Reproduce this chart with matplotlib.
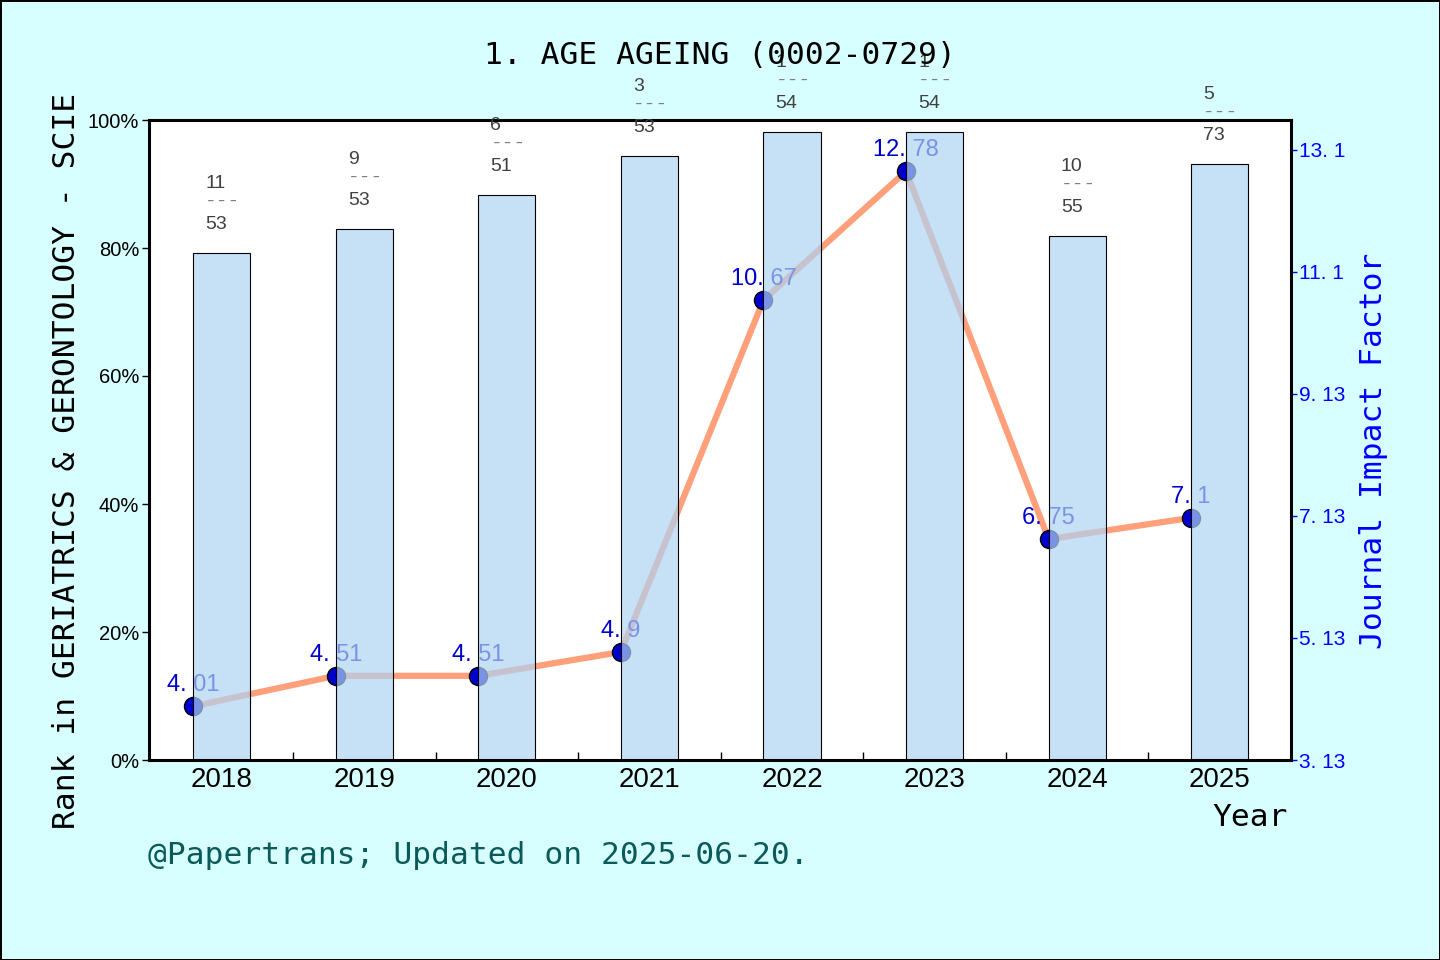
import numpy as np
import matplotlib.pyplot as plt

# data
years = ['2018', '2019', '2020', '2021', '2022', '2023', '2024', '2025']
rank = [11, 9, 6, 3, 1, 1, 10, 5]
total = [53, 53, 51, 53, 54, 54, 55, 73]
impact = [4.01, 4.51, 4.51, 4.9, 10.67, 12.78, 6.75, 7.1]
if_ticks = [3.13, 5.13, 7.13, 9.13, 11.13, 13.13]
if_tick_labels = ['3. 13', '5. 13', '7. 13', '9. 13', '11. 1', '13. 1']

x = np.arange(len(years))
pct = [1 - r / t for r, t in zip(rank, total)]

mono = 'DejaVu Sans Mono'
sans = 'Liberation Sans'

fig = plt.figure(figsize=(14.4, 9.6), dpi=100, facecolor='#d8ffff')
fig.patch.set_edgecolor('black')
fig.patch.set_linewidth(2)

ax_bar = fig.add_axes([149 / 1440, 1 - 760 / 960, 1142 / 1440, 640 / 960])
ax_line = ax_bar.twinx()
# bars sit on top of the line (semi-transparent)
ax_bar.set_zorder(ax_line.get_zorder() + 1)
ax_bar.patch.set_visible(False)
ax_line.patch.set_visible(True)
ax_line.patch.set_facecolor('white')

# impact factor line
ax_line.plot(x, impact, color='#ffa07a', lw=4.5, zorder=2)
ax_line.plot(x, impact, ls='none', marker='o', ms=13, mfc='#0000cd',
             mec='black', mew=1, zorder=3)
for xi, v in zip(x, impact):
    ax_line.annotate(str(v).replace('.', '. '), (xi, v), xytext=(0, 11),
                     textcoords='offset points', ha='center', va='baseline',
                     fontsize=17, color='#0000cd', family=sans)
ax_line.set_ylim(3.13, 13.62)
ax_line.set_yticks(if_ticks)
ax_line.set_yticklabels(if_tick_labels)
ax_line.tick_params(axis='y', colors='#0000ff', labelsize=15, length=4,
                    width=1, pad=2, direction='out')
for lab in ax_line.get_yticklabels():
    lab.set_family(sans)
for s in ax_line.spines.values():
    s.set_visible(False)

# rank bars
ax_bar.bar(x, pct, width=0.4, align='edge',
           facecolor=(174 / 255, 211 / 255, 242 / 255, 0.7),
           edgecolor='black', lw=0.8)
for xi, p, r, t in zip(x, pct, rank, total):
    ax_bar.annotate(str(t), (xi + 0.085, p), xytext=(0, 17.3),
                    textcoords='offset points', ha='left', va='baseline',
                    fontsize=14, color='#404040', family=sans)
    ax_bar.annotate('---', (xi + 0.085, p), xytext=(0, 34),
                    textcoords='offset points', ha='left', va='baseline',
                    fontsize=14, color='#808080', family='Liberation Mono')
    ax_bar.annotate(str(r), (xi + 0.085, p), xytext=(0, 46.8),
                    textcoords='offset points', ha='left', va='baseline',
                    fontsize=14, color='#404040', family=sans,
                    annotation_clip=False)

ax_bar.set_xlim(-0.31, 7.7)
ax_bar.set_ylim(0, 1)
ax_bar.set_yticks(np.linspace(0, 1, 6))
ax_bar.set_yticklabels([f'{int(round(v * 100))}%' for v in np.linspace(0, 1, 6)])
ax_bar.tick_params(axis='y', labelsize=14.5, length=5, width=1, pad=2,
                   direction='out')
for lab in ax_bar.get_yticklabels():
    lab.set_family(sans)
ax_bar.set_xticks(x + 0.2)
ax_bar.set_xticklabels(years)
ax_bar.set_xticks(x + 0.7, minor=True)
ax_bar.tick_params(axis='x', which='major', length=0, labelsize=20, pad=5)
ax_bar.tick_params(axis='x', which='minor', length=6, width=1,
                   direction='in')
for lab in ax_bar.get_xticklabels():
    lab.set_family(sans)
for s in ax_bar.spines.values():
    s.set_linewidth(2.2)

# titles and labels
fig.text(0.5, 1 - 56 / 960, '1. AGE AGEING (0002-0729)', ha='center',
         va='center', fontsize=22.5, family=mono, color='black', zorder=10)
fig.text(67 / 1440, 1 - 461 / 960, 'Rank in GERIATRICS & GERONTOLOGY - SCIE',
         rotation=90, ha='center', va='center', fontsize=22.5, family=mono)
fig.text(1373 / 1440, 1 - 451 / 960, 'Journal Impact Factor', rotation=90,
         ha='center', va='center', fontsize=22.5, family=mono, color='#0000ff')
fig.text(1288 / 1440, 1 - 818 / 960, 'Year', ha='right', va='center',
         fontsize=22.5, family=mono)
fig.text(148 / 1440, 1 - 855 / 960, '@Papertrans; Updated on 2025-06-20.',
         ha='left', va='center', fontsize=22.5, family=mono, color='#0a5a5a')

fig.savefig('out.png', dpi=100)
